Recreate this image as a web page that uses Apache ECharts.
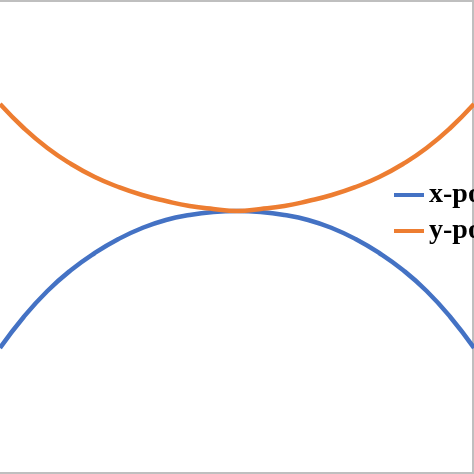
<!DOCTYPE html>
<html>
<head>
<meta charset="utf-8">
<script src="https://cdn.jsdelivr.net/npm/echarts@6/dist/echarts.min.js"></script>
<style>
  html, body { margin: 0; padding: 0; background: #fff; }
  #chart { width: 474px; height: 474px; }
</style>
</head>
<body>
<div id="chart"></div>
<script>
// sample positions along the horizontal axis
const xs = [-1, -0.9, -0.8, -0.7, -0.6, -0.5, -0.4, -0.3, -0.2, -0.1, 0,
  0.1, 0.2, 0.3, 0.4, 0.5, 0.6, 0.7, 0.8, 0.9, 1];

const xPosition = [1.26, 1.57, 1.83, 2.04, 2.21, 2.35, 2.46, 2.54, 2.59, 2.62, 2.63,
  2.62, 2.59, 2.54, 2.46, 2.35, 2.21, 2.04, 1.83, 1.57, 1.26];
const yPosition = [3.70, 3.46, 3.26, 3.10, 2.97, 2.87, 2.79, 2.73, 2.68, 2.65, 2.63,
  2.65, 2.68, 2.73, 2.79, 2.87, 2.97, 3.10, 3.26, 3.46, 3.70];

const seriesNames = ['x-position', 'y-position'];

const pairs = (ys) => xs.map((x, i) => [x, ys[i]]);

const chart = echarts.init(document.getElementById('chart'));

chart.setOption({
  animation: false,
  grid: { left: 0, right: 0, top: 0, bottom: 0 },
  xAxis: { type: 'value', min: -1, max: 1, show: false },
  yAxis: { type: 'value', min: 0, max: 4.74, show: false },
  legend: {
    orient: 'vertical',
    left: 394,
    top: 181,
    padding: 0,
    itemWidth: 30,
    itemHeight: 4,
    itemGap: 8,
    icon: 'rect',
    textStyle: {
      fontFamily: 'Liberation Serif',
      fontWeight: 'bold',
      fontSize: 28,
      color: '#000'
    },
    data: seriesNames
  },
  graphic: [{
    type: 'rect',
    shape: { x: -10, y: 1, width: 483, height: 472 },
    style: { fill: 'none', stroke: '#bfbfbf', lineWidth: 2 },
    silent: true
  }],
  series: [
    {
      name: seriesNames[0],
      type: 'line',
      smooth: true,
      symbol: 'none',
      data: pairs(xPosition),
      itemStyle: { color: '#4472c4' },
      lineStyle: { color: '#4472c4', width: 4.5 }
    },
    {
      name: seriesNames[1],
      type: 'line',
      smooth: true,
      symbol: 'none',
      data: pairs(yPosition),
      itemStyle: { color: '#ed7d31' },
      lineStyle: { color: '#ed7d31', width: 4.5 }
    }
  ]
});
</script>
</body>
</html>
